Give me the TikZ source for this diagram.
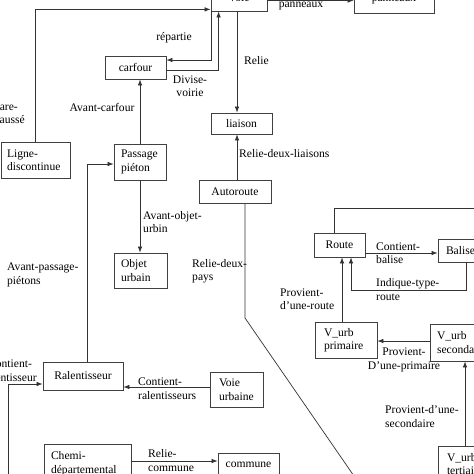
\documentclass[tikz,border=0pt]{standalone}
\usepackage{fontspec}
\setmainfont{Liberation Serif}
\usetikzlibrary{arrows.meta}
\tikzset{
  box/.style={draw=black!75, line width=0.8pt, inner sep=0pt, align=center, fill=white},
  lbox/.style={box, align=left},
  conn/.style={draw=black!80, line width=0.7pt},
  arr/.style={conn, -{Latex[length=6pt,width=4.5pt]}},
  lbl/.style={inner sep=0pt, align=left},
}
\begin{document}
\begin{tikzpicture}[x=1pt,y=-1pt,every node/.append style={font=\fontsize{11.6}{13.5}\selectfont}]
\useasboundingbox (0,0) rectangle (474,474);
\fill[white] (0,0) rectangle (474,474);
\begin{scope}
\clip (0,0) rectangle (474,474);
% boxes
\node[box, minimum width=56pt, minimum height=26pt] (voie) at (239,-2) {Voie};
\node[box, minimum width=80pt, minimum height=26pt] (pann) at (394,0) {panneaux};
\node[box, minimum width=61pt, minimum height=23pt] (carfour) at (135.5,67.5) {carfour};
\node[lbox, text width=57pt, inner xsep=6pt, minimum height=36pt] (ligne) at (35.5,160) {Ligne-\\discontinue};
\node[lbox, text width=38pt, inner xsep=7pt, minimum height=36pt] (passage) at (140,162) {Passage\\piéton};
\node[box, minimum width=61pt, minimum height=21pt] (liaison) at (241.5,123.5) {liaison};
\node[box, minimum width=72pt, minimum height=23pt] (autoroute) at (235,191.5) {Autoroute};
\node[lbox, text width=39pt, inner xsep=7pt, minimum height=35pt] (objet) at (140.5,270.5) {Objet\\urbain};
\node[box, minimum width=51pt, minimum height=24pt] (route) at (339.5,245) {Route};
\node[lbox, text width=44pt, inner xsep=8pt, minimum height=23pt] (balise) at (468,250.5) {Balise};
\node[lbox, text width=44pt, inner xsep=9pt, minimum height=36pt] (vprim) at (346,340) {V\_urb\\primaire};
\node[lbox, text width=66pt, inner xsep=7pt, minimum height=37pt] (vsec) at (470,342.5) {V\_urb\\secondaire};
\node[lbox, text width=54pt, inner xsep=9pt, minimum height=36pt] (vter) at (474,464) {V\_urb\\tertiaire};
\node[box, minimum width=80pt, minimum height=28pt] (ralent) at (83,376) {Ralentisseur};
\node[lbox, text width=35pt, inner xsep=9pt, minimum height=35pt] (voieurb) at (236.5,389.5) {Voie\\urbaine};
\node[lbox, text width=73pt, inner xsep=7pt, minimum height=39pt] (chemi) at (87.5,463.5) {Chemi-\\départemental};
\node[box, minimum width=61pt, minimum height=24pt] (commune) at (248.5,465) {commune};
% free ends
\coordinate (rdpBend) at (245,318);
\coordinate (rdpEnd) at (365,492);
\coordinate (rtEnd) at (490,208);
\coordinate (crStart) at (8,500);
% connectors
\draw[arr] (voie.east |- 0,0.5) -- (pann.west |- 0,0.5);
\draw[arr] (ligne.north) |- ([yshift=2pt]voie.south west);
\draw[arr] ([xshift=1pt]voie.south west) |- ([yshift=7.5pt]carfour.east);
\draw[arr] ([yshift=-2.5pt]carfour.east) -| ([xshift=8pt]voie.south west);
\draw[arr] (voie.south -| 237,0) -- (liaison.north -| 237,0);
\draw[arr] (autoroute.north -| 237,0) -- (liaison.south -| 237,0);
\draw[arr] (passage.north) -- (carfour.south -| passage.north);
\draw[arr] (passage.south) -- (objet.north -| passage.south);
\draw[arr] (ralent.north -| 87,0) |- ([yshift=-2pt]passage.west);
\draw[arr] (voieurb.west |- 0,387) -- (ralent.east |- 0,387);
\draw[arr] (chemi.east |- 0,461) -- (commune.west |- 0,461);
\draw[arr] (crStart) |- ([yshift=-8pt]ralent.west);
\draw[conn] (autoroute.south -| 245,0) -- (rdpBend) -- (rdpEnd);
\draw[arr] (route.east |- 0,253) -- (balise.west |- 0,253);
\draw[arr] (balise.south -| 466,0) -- (466,290) -| (route.south -| 351,0);
\draw[conn] (route.north -| 334,0) |- (rtEnd);
\draw[arr] (vprim.north -| 342,0) -- (route.south -| 342,0);
\draw[arr] (vsec.west |- 0,341) -- (vprim.east |- 0,341);
\draw[arr] (vter.north -| 465,0) -- (vsec.south -| 465,0);
% labels
\node[lbl] (lPann) at (301,6) {panneaux};
\node[lbl] (lRep) at (174,38) {répartie};
\node[lbl, align=center] (lDiv) at (190,86) {Divise-\\voirie};
\node[lbl, anchor=west] (lRelie) at (244,61) {Relie};
\node[lbl, align=right, anchor=east] (lSep) at (25,113) {Sépare-\hspace*{7pt}\\chaussé};
\node[lbl] (lAvCarf) at (102,107) {Avant-carfour};
\node[lbl, anchor=west] (lAvObj) at (143,222) {Avant-objet-\\urbin};
\node[lbl, anchor=west] (lRDL) at (239,154) {Relie-deux-liaisons};
\node[lbl, anchor=west] (lAvPass) at (7,275) {Avant-passage-\\piétons};
\node[lbl, anchor=west] (lRDP) at (192,271) {Relie-deux-\\pays};
\node[lbl, anchor=west] (lCB) at (376,253) {Contient-\\balise};
\node[lbl, anchor=west] (lITR) at (376,289.5) {Indique-type-\\route};
\node[lbl, anchor=west] (lPR) at (280,299) {Provient-\\d’une-route};
\node[lbl, align=center] (lPP) at (404,360) {Provient-\\D’une-primaire};
\node[lbl, anchor=west] (lPS) at (385,416.5) {Provient-d’une-\\secondaire};
\node[lbl, align=center] (lCR) at (10,370.5) {Contient-\\ralentisseur};
\node[lbl, anchor=west] (lCRs) at (138,388.5) {Contient-\\ralentisseurs};
\node[lbl, anchor=west] (lRC) at (148,460.5) {Relie-\\commune};
\end{scope}
\end{tikzpicture}
\end{document}
